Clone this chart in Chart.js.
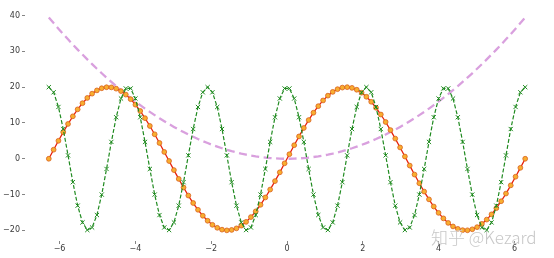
<!DOCTYPE html>
<html>
<head>
<meta charset="utf-8">
<script src="https://cdn.jsdelivr.net/npm/chart.js@4"></script>
<style>
  html, body { margin: 0; padding: 0; background: #fff; }
  #wrap { position: relative; width: 554px; height: 258px; }
  #mark {
    position: absolute; left: 431px; top: 224px;
    font-family: "Noto Sans CJK SC", "DejaVu Sans", sans-serif;
    font-size: 17px; font-weight: 300; color: rgba(185, 185, 185, 0.8);
    text-shadow: 0 0 1px #fff; white-space: nowrap; pointer-events: none;
  }
</style>
</head>
<body>
<div id="wrap">
  <canvas id="chart" width="554" height="258"></canvas>
  <div id="mark">知乎 @Kezard</div>
</div>
<script>
// x positions, -2pi .. 2pi (100 samples)
const xValues = [
  -6.283, -6.156, -6.029, -5.902, -5.776, -5.649, -5.522, -5.395, -5.268, -5.141,
  -5.014, -4.887, -4.760, -4.633, -4.506, -4.379, -4.252, -4.125, -3.998, -3.871,
  -3.745, -3.618, -3.491, -3.364, -3.237, -3.110, -2.983, -2.856, -2.729, -2.602,
  -2.475, -2.348, -2.221, -2.094, -1.967, -1.840, -1.714, -1.587, -1.460, -1.333,
  -1.206, -1.079, -0.952, -0.825, -0.698, -0.571, -0.444, -0.317, -0.190, -0.063,
  0.063, 0.190, 0.317, 0.444, 0.571, 0.698, 0.825, 0.952, 1.079, 1.206,
  1.333, 1.460, 1.587, 1.714, 1.840, 1.967, 2.094, 2.221, 2.348, 2.475,
  2.602, 2.729, 2.856, 2.983, 3.110, 3.237, 3.364, 3.491, 3.618, 3.745,
  3.871, 3.998, 4.125, 4.252, 4.379, 4.506, 4.633, 4.760, 4.887, 5.014,
  5.141, 5.268, 5.395, 5.522, 5.649, 5.776, 5.902, 6.029, 6.156, 6.283
];

// orange circles on red line
const sineValues = [
  0, 2.53, 5.02, 7.43, 9.72, 11.86, 13.80, 15.52, 16.99, 18.19,
  19.10, 19.70, 19.98, 19.94, 19.58, 18.90, 17.92, 16.65, 15.11, 13.34,
  11.34, 9.16, 6.84, 4.41, 1.90, -0.63, -3.16, -5.63, -8.02, -10.27,
  -12.36, -14.25, -15.92, -17.32, -18.45, -19.28, -19.80, -20.00, -19.88, -19.44,
  -18.68, -17.63, -16.29, -14.69, -12.86, -10.81, -8.60, -6.24, -3.79, -1.27,
  1.27, 3.79, 6.24, 8.60, 10.81, 12.86, 14.69, 16.29, 17.63, 18.68,
  19.44, 19.88, 20.00, 19.80, 19.28, 18.45, 17.32, 15.92, 14.25, 12.36,
  10.27, 8.02, 5.63, 3.16, 0.63, -1.90, -4.41, -6.84, -9.16, -11.34,
  -13.34, -15.11, -16.65, -17.92, -18.90, -19.58, -19.94, -19.98, -19.70, -19.10,
  -18.19, -16.99, -15.52, -13.80, -11.86, -9.72, -7.43, -5.02, -2.53, 0
];

// green dashed line with x markers
const waveValues = [
  20, 18.57, 14.47, 8.31, 0.95, -6.54, -13.10, -17.78, -19.91, -19.19,
  -15.72, -10.00, -2.85, 4.71, 11.60, 16.83, 19.64, 19.64, 16.83, 11.60,
  4.71, -2.85, -10.00, -15.72, -19.19, -19.91, -17.78, -13.10, -6.54, 0.95,
  8.31, 14.47, 18.57, 20, 18.57, 14.47, 8.31, 0.95, -6.54, -13.10,
  -17.78, -19.91, -19.19, -15.72, -10.00, -2.85, 4.71, 11.60, 16.83, 19.64,
  19.64, 16.83, 11.60, 4.71, -2.85, -10.00, -15.72, -19.19, -19.91, -17.78,
  -13.10, -6.54, 0.95, 8.31, 14.47, 18.57, 20, 18.57, 14.47, 8.31,
  0.95, -6.54, -13.10, -17.78, -19.91, -19.19, -15.72, -10.00, -2.85, 4.71,
  11.60, 16.83, 19.64, 19.64, 16.83, 11.60, 4.71, -2.85, -10.00, -15.72,
  -19.19, -19.91, -17.78, -13.10, -6.54, 0.95, 8.31, 14.47, 18.57, 20
];

// violet dashed parabola
const parabolaValues = [
  39.48, 37.90, 36.35, 34.83, 33.36, 31.91, 30.49, 29.11, 27.75, 26.43,
  25.14, 23.88, 22.66, 21.46, 20.30, 19.18, 18.08, 17.02, 15.98, 14.98,
  14.02, 13.09, 12.19, 11.32, 10.48, 9.67, 8.90, 8.16, 7.45, 6.77,
  6.13, 5.51, 4.93, 4.39, 3.87, 3.39, 2.94, 2.52, 2.13, 1.78,
  1.45, 1.16, 0.91, 0.68, 0.49, 0.33, 0.20, 0.10, 0.04, 0.00,
  0.00, 0.04, 0.10, 0.20, 0.33, 0.49, 0.68, 0.91, 1.16, 1.45,
  1.78, 2.13, 2.52, 2.94, 3.39, 3.87, 4.39, 4.93, 5.51, 6.13,
  6.77, 7.45, 8.16, 8.90, 9.67, 10.48, 11.32, 12.19, 13.09, 14.02,
  14.98, 15.98, 17.02, 18.08, 19.18, 20.30, 21.46, 22.66, 23.88, 25.14,
  26.43, 27.75, 29.11, 30.49, 31.91, 33.36, 34.83, 36.35, 37.90, 39.48
];

const xTicks = [-6, -4, -2, 0, 2, 4, 6];
const yTicks = [-20, -10, 0, 10, 20, 30, 40];

const toPoints = ys => ys.map((y, i) => ({ x: xValues[i], y: y }));
const minus = v => String(v).replace('-', '\u2212');

const tickFont = { family: 'DejaVu Sans', size: 8 };

new Chart(document.getElementById('chart'), {
  type: 'scatter',
  data: {
    datasets: [
      {
        label: 'sin',
        data: toPoints(sineValues),
        showLine: true,
        borderColor: '#e8200c',
        borderWidth: 1.3,
        pointStyle: 'circle',
        pointRadius: 2.4,
        pointBackgroundColor: '#f8ae30',
        pointBorderColor: '#d9601c',
        pointBorderWidth: 0.8,
        order: 2
      },
      {
        label: 'cos3x',
        data: toPoints(waveValues),
        showLine: true,
        borderColor: '#1f8a1f',
        borderWidth: 1.2,
        borderDash: [4, 2],
        pointStyle: 'crossRot',
        pointRadius: 3,
        pointBorderColor: '#1f8a1f',
        pointBorderWidth: 1,
        order: 1
      },
      {
        label: 'x^2',
        data: toPoints(parabolaValues),
        showLine: true,
        borderColor: '#d9a0de',
        borderWidth: 2.3,
        borderDash: [8, 4.5],
        pointRadius: 0,
        order: 3
      }
    ]
  },
  options: {
    responsive: false,
    animation: false,
    layout: { padding: { top: 5, right: 5, left: 0, bottom: 0 } },
    plugins: { legend: { display: false }, tooltip: { enabled: false } },
    scales: {
      x: {
        type: 'linear',
        min: -6.911,
        max: 6.911,
        border: { display: false },
        grid: { drawOnChartArea: false, drawTicks: true, tickLength: 3, color: '#666', lineWidth: 0.8 },
        ticks: { color: '#3a3a3a', font: tickFont, padding: 0, callback: v => minus(v) },
        afterBuildTicks: axis => { axis.ticks = xTicks.map(v => ({ value: v })); },
        afterFit: axis => { axis.height = 17; }
      },
      y: {
        type: 'linear',
        min: -22.97,
        max: 42.45,
        border: { display: false },
        grid: { drawOnChartArea: false, drawTicks: true, tickLength: 3, color: '#666', lineWidth: 0.8 },
        ticks: { color: '#3a3a3a', font: tickFont, padding: 2, callback: v => minus(v) },
        afterBuildTicks: axis => { axis.ticks = yTicks.map(v => ({ value: v })); },
        afterFit: axis => { axis.width = 25; }
      }
    }
  }
});
</script>
</body>
</html>
